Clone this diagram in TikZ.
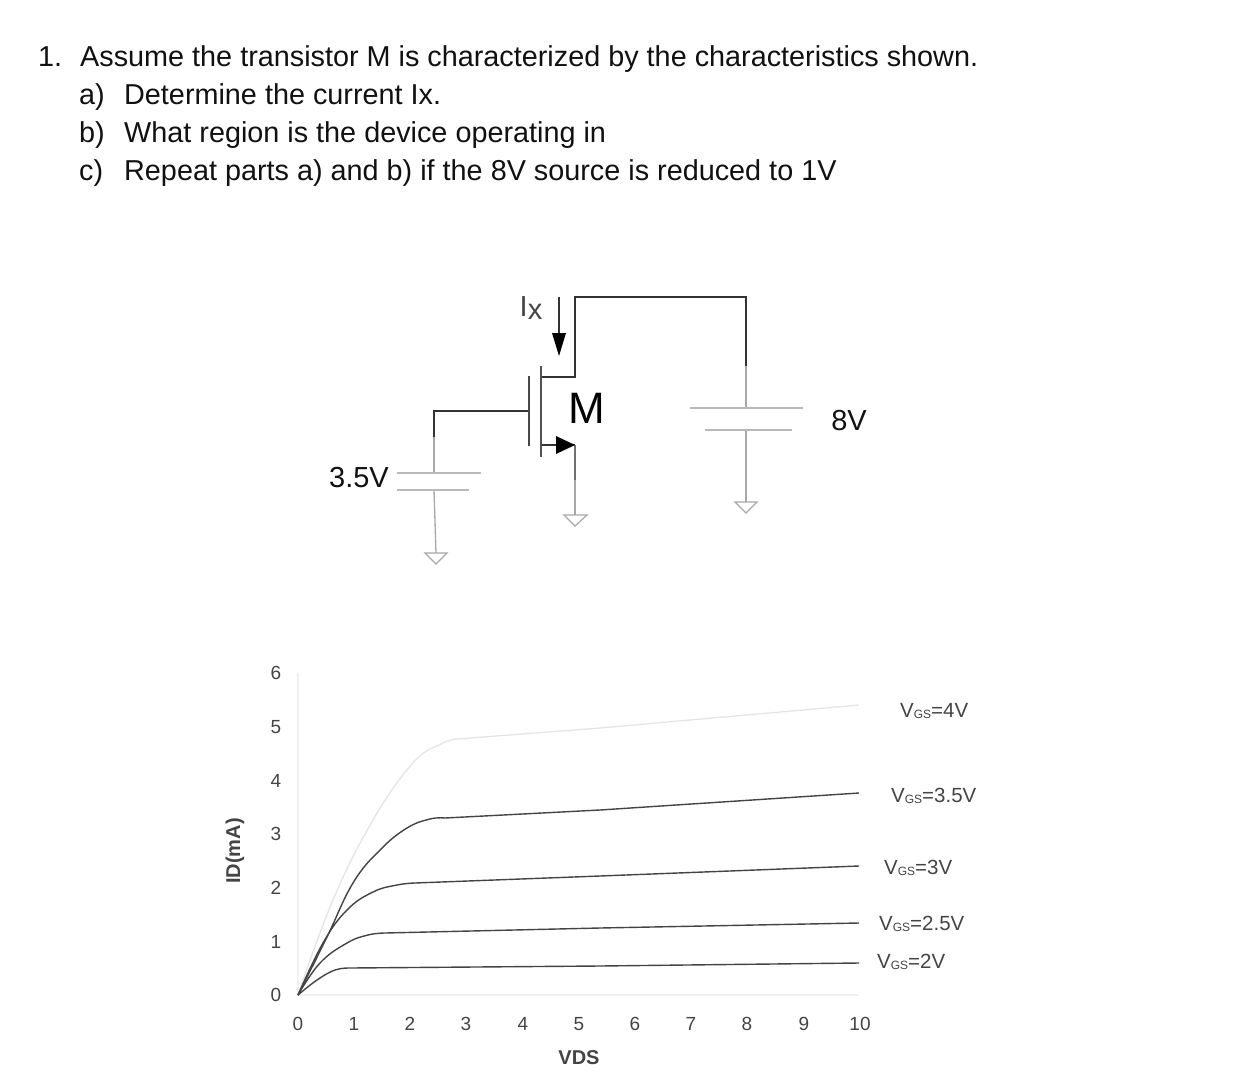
\documentclass[tikz,border=0pt]{standalone}
\usepackage{fontspec}
\setmainfont{Liberation Sans}
\newcommand{\fs}[1]{\fontsize{#1}{#1}\selectfont}
\newcommand{\vgs}[1]{V\raisebox{-1.5pt}{\fs{12}GS}=#1}
\definecolor{inkc}{HTML}{111111}
\definecolor{graywire}{HTML}{A8A8A8}
\definecolor{darkwire}{HTML}{333333}
\definecolor{faint}{HTML}{F0F0F0}
\definecolor{curvec}{HTML}{444444}
\definecolor{tickc}{HTML}{444444}
\tikzset{
 x=1pt,y=-1pt,
 prob/.style={anchor=base west,inner sep=0,text=inkc,font=\fs{28.8}},
 wire/.style={draw=darkwire,line width=1.8pt},
 thin wire/.style={draw=graywire,line width=1.3pt},
 plate/.style={draw=graywire!80,line width=1.6pt},
 gnd/.style={draw=graywire,line width=1.2pt,fill=white,line join=miter},
 tick/.style={text=tickc,inner sep=0,font=\fs{19}},
 curve/.style={draw=curvec,line width=1.4pt},
 vlabel/.style={text=tickc,inner sep=0,anchor=west,font=\fs{20.5}},
}
\begin{document}
\begin{tikzpicture}
\useasboundingbox (0,0) rectangle (1248,1092);
\fill[white] (0,0) rectangle (1248,1092);
% problem text
\node[prob] (t1) at (38,66) {\makebox[42pt][l]{1.}Assume the transistor M is characterized by the characteristics shown.};
\node[prob] (t2) at (79,104) {\makebox[45pt][l]{a)}Determine the current Ix.};
\node[prob] (t3) at (79,142) {\makebox[45pt][l]{b)}What region is the device operating in};
\node[prob] (t4) at (79,180) {\makebox[45pt][l]{c)}Repeat parts a) and b) if the 8V source is reduced to 1V};
% circuit coordinates
\coordinate (dt) at (575,297);
\coordinate (dc) at (746,297);
\coordinate (dm) at (746,366);
\coordinate (cp1) at (746,408);
\coordinate (cp2) at (746,430);
\coordinate (cg) at (746,502);
\coordinate (db) at (575,377);
\coordinate (dd) at (542,377);
\coordinate (gg) at (529,411);
\coordinate (gw) at (434,411);
\coordinate (gm) at (434,437);
\coordinate (gp1) at (434,473);
\coordinate (gp2) at (434,490);
\coordinate (gb) at (436,553);
\coordinate (sd) at (542,445);
\coordinate (st) at (575,445);
\coordinate (sm) at (575,480);
\coordinate (sg) at (575,515);
% wires
\draw[wire,line cap=rect] (dm) -- (dc) -- (dt) -- (db) -- (dd);
\draw[thin wire] (dm) -- (cp1);
\draw[thin wire] (cp2) -- (cg);
\draw[wire] (gg) -- (gw) -- (gm);
\draw[thin wire] (gm) -- (gp1);
\draw[thin wire] (gp2) -- (gb);
\draw[wire] (sd) -- (st);
\draw[draw=darkwire!70,line width=1.8pt] (st) -- (sm);
\draw[thin wire] (sm) -- (sg);
% capacitors
\draw[plate] (690,408) -- (803,408);
\draw[plate] (705,430) -- (792,430);
\draw[plate] (397,473) -- (481,473);
\draw[plate] (397,490) -- (469,490);
% grounds
\draw[gnd] (735,502) -- (757,502) -- (746,513) -- cycle;
\draw[gnd] (564,515) -- (587,515) -- (575,526) -- cycle;
\draw[gnd] (425,553) -- (447,553) -- (436,564) -- cycle;
% transistor
\draw[draw=darkwire!85,line width=2.8pt] (541,366) -- (541,457);
\draw[draw=darkwire!90,line width=1.6pt] (529,376) -- (529,446);
\fill[black] (556,436) -- (575,445) -- (556,454) -- cycle;
% Ix arrow
\draw[draw=darkwire,line width=2.8pt] (559,297) -- (559,337);
\fill[black] (552,333) -- (566,333) -- (559,356) -- cycle;
% circuit labels
\node[inner sep=0,text=tickc,font=\fs{29}] (ix) at (531,308) {I\raisebox{-3pt}{x}};
\node[inner sep=0,text=black,font=\fs{44}] (m) at (587,408) {M};
\node[inner sep=0,text=inkc,font=\fs{29}] (v8) at (849,421) {8V};
\node[inner sep=0,text=inkc,font=\fs{29}] (v35) at (359,478) {3.5V};
% axes
\draw[faint,line width=1.2pt] (298,673) -- (298,995) -- (859,995);
% y ticks
\foreach \v/\y in {0/995,1/942,2/888,3/834,4/781,5/727,6/673}
  \node[tick] (y\v) at (276,\y) {\v};
\foreach \v/\x in {0/298,1/354,2/410,3/466,4/523,5/579,6/635,7/691,8/747,9/804}
  \node[tick] (x\v) at (\x,1024) {\v};
\node[tick] (x10) at (860,1024) {10};
\node[tick,font=\bfseries\fs{20}] (xl) at (579,1058) {VDS};
\node[tick,font=\bfseries\fs{20},rotate=90] (yl) at (235,851) {ID(mA)};
% curves
\draw[faint!90!gray,line width=1.3pt] plot[smooth,tension=.7] coordinates {(298,995) (333,900) (373,820) (413,763) (441,744) (457,739)} -- (600,728) -- (859,705);
\draw[curve] plot[smooth,tension=.7] coordinates {(298,995) (327,937) (353,883) (380,850) (407,828) (430,819) (445,818)} -- (600,810) -- (859,793);
\draw[curve] plot[smooth,tension=.7] coordinates {(298,995) (323,943) (347,910) (373,892) (397,885) (415,883)} -- (600,876) -- (859,866);
\draw[curve] plot[smooth,tension=.7] coordinates {(298,995) (320,963) (347,943) (368,935) (385,933)} -- (600,928) -- (859,923);
\draw[curve] plot[smooth,tension=.7] coordinates {(298,995) (317,980) (335,970) (350,968)} -- (600,966) -- (859,963);
% curve labels
\node[vlabel] (l4) at (900,711) {\vgs{4V}};
\node[vlabel] (l35) at (891,796) {\vgs{3.5V}};
\node[vlabel] (l3) at (884,868) {\vgs{3V}};
\node[vlabel] (l25) at (879,924) {\vgs{2.5V}};
\node[vlabel] (l2) at (877,962) {\vgs{2V}};
\end{tikzpicture}
\end{document}
